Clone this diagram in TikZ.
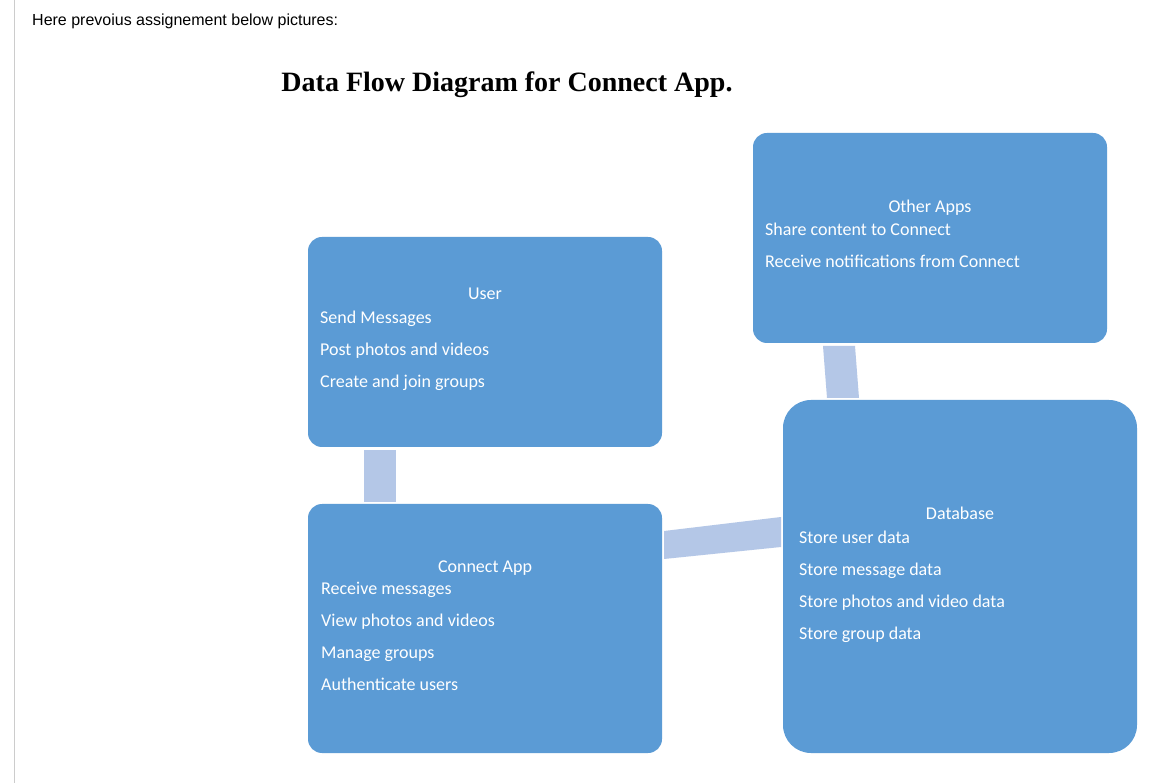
\documentclass[tikz,border=0pt]{standalone}
\usepackage{fontspec}
\setmainfont{Carlito}
\newfontfamily\arialf{Liberation Sans}
\newfontfamily\timesf{Liberation Serif}
\definecolor{boxblue}{HTML}{5B9BD5}
\definecolor{barblue}{HTML}{B4C7E7}
\begin{document}
\begin{tikzpicture}[x=1pt,y=-1pt,
  bx/.style={fill=boxblue,rounded corners=14pt},
  hd/.style={text=white,font=\fontsize{18}{22}\selectfont,anchor=base},
  lst/.style={text=white,font=\fontsize{18}{32}\selectfont,anchor=north west,align=left,inner sep=0pt},
  bar/.style={fill=barblue}]
\useasboundingbox (0,0) rectangle (1160,783);
\fill[white] (0,0) rectangle (1160,783);
\draw[gray!40] (14,0) -- (14,783);
\node[anchor=base west,font=\arialf\fontsize{16}{19}\selectfont,inner sep=0pt] (note) at (32,26) {Here prevoius assignement below pictures:};
\node[anchor=base,font=\timesf\bfseries\fontsize{28}{32}\selectfont,inner sep=0pt] (title) at (507,92) {Data Flow Diagram for Connect App.};
% bars
\fill[bar] (364,450) rectangle (396,502);
\fill[bar] (823,346) -- (855,346) -- (859,398) -- (827,398) -- cycle;
\fill[bar] (664,531) -- (781,517) -- (781,547) -- (664,559) -- cycle;
% boxes
\fill[bx] (308,237) rectangle (662,447);
\fill[bx] (308,504) rectangle (662,753);
\fill[bx] (753,133) rectangle (1107,343);
\fill[bx,rounded corners=28pt] (783,400) rectangle (1137,753);
\node[hd] (userh) at (485,300) {User};
\node[lst] (userl) at (320,311) {Send Messages\\Post photos and videos\\Create and join groups};
\node[hd] (apph) at (485,572) {Connect App};
\node[lst] (appl) at (321,582) {Receive messages\\View photos and videos\\Manage groups\\Authenticate users};
\node[hd] (othh) at (930,213) {Other Apps};
\node[lst] (othl) at (765,223) {Share content to Connect\\Receive notifications from Connect};
\node[hd] (dbh) at (960,519) {Database};
\node[lst] (dbl) at (799,531) {Store user data\\Store message data\\Store photos and video data\\Store group data};
\end{tikzpicture}
\end{document}
